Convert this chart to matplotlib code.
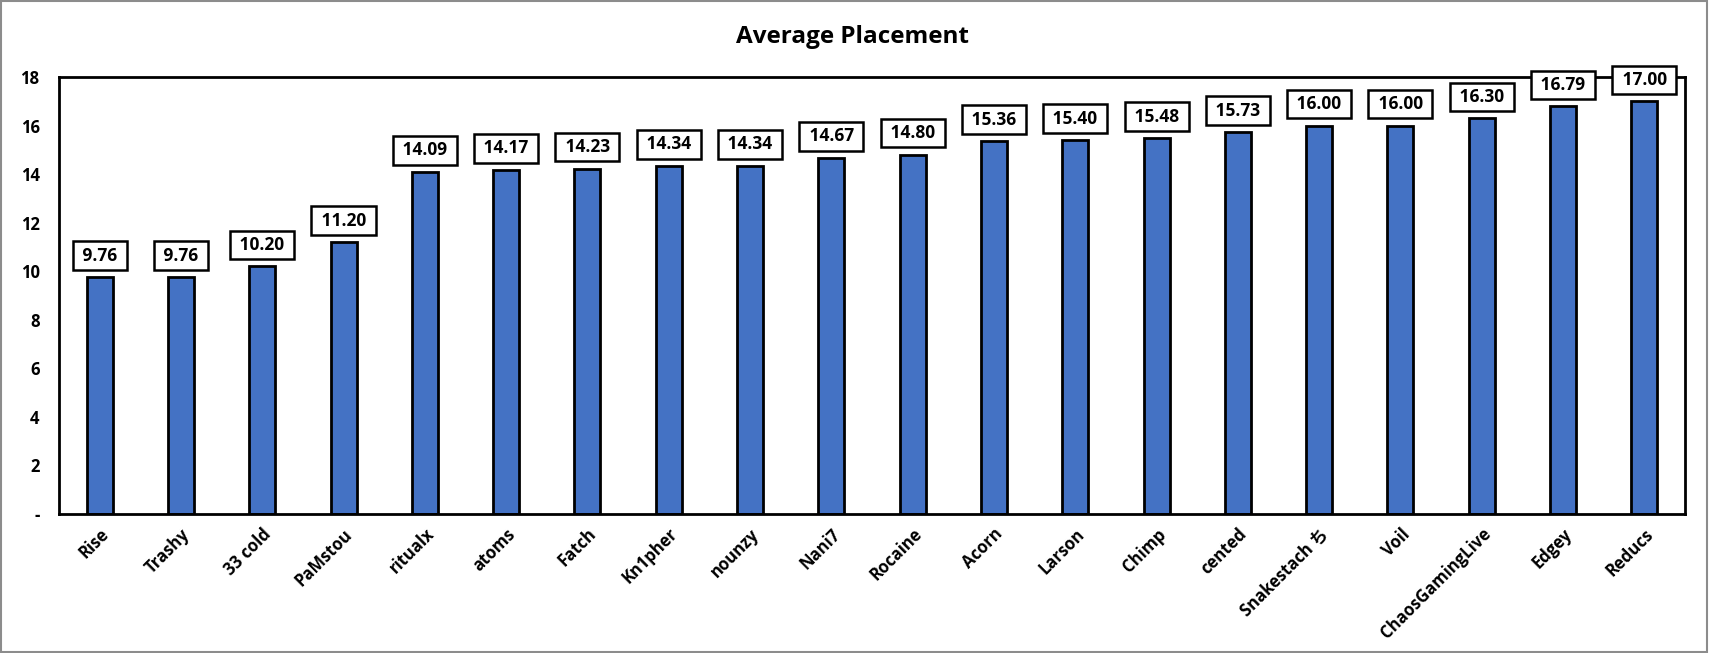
import matplotlib
matplotlib.use("Agg")
import matplotlib.pyplot as plt
from matplotlib.patches import Rectangle

plt.rcParams['font.family'] = ['Open Sans', 'Noto Sans CJK JP', 'DejaVu Sans']

players = ["Rise", "Trashy", "33 cold", "PaMstou", "ritualx", "atoms", "Fatch", "Kn1pher",
           "nounzy", "Nani7", "Rocaine", "Acorn", "Larson", "Chimp", "cented", "Snakestach ち",
           "Voil", "ChaosGamingLive", "Edgey", "Reducs"]
avg_placement = [9.76, 9.76, 10.20, 11.20, 14.09, 14.17, 14.23, 14.34, 14.34, 14.67, 14.80,
                 15.36, 15.40, 15.48, 15.73, 16.00, 16.00, 16.30, 16.79, 17.00]
yticks = [0, 2, 4, 6, 8, 10, 12, 14, 16, 18]
ytick_labels = ["-", "2", "4", "6", "8", "10", "12", "14", "16", "18"]

fig = plt.figure(figsize=(17.09, 6.53), dpi=100)
ax = fig.add_axes([59/1709, 1-514/653, (1685-59)/1709, (514-77)/653])

x = list(range(len(players)))
ax.bar(x, avg_placement, width=0.32, color="#4472C4", edgecolor="black", linewidth=2, zorder=2)

for xi, v in zip(x, avg_placement):
    ax.annotate(f" {v:.2f} ", (xi, v), xytext=(0, 9), textcoords="offset points",
                ha="center", va="bottom", fontsize=12.5, fontweight="bold",
                bbox=dict(boxstyle="square,pad=0.3", fc="white", ec="black", lw=1.8),
                annotation_clip=False, zorder=5)

ax.set_xlim(-0.5, len(players) - 0.5)
ax.set_ylim(0, 18)
ax.set_yticks(yticks)
ax.set_yticklabels(ytick_labels, fontsize=12, fontweight="bold")
ax.set_xticks(x)
ax.set_xticklabels(players, rotation=45, ha="right", va="top", rotation_mode="anchor",
                   fontsize=12, fontweight="bold")
ax.tick_params(axis="both", length=0)
ax.tick_params(axis="x", pad=8)
ax.tick_params(axis="y", pad=14)
for s in ax.spines.values():
    s.set_linewidth(2)
    s.set_color("black")

fig.text(853/1709, 1-37/653, "Average Placement", ha="center", va="center",
         fontsize=17.5, fontweight="bold")

fig.patches.append(Rectangle((0.0006, 0.001), 0.9985, 0.997, transform=fig.transFigure,
                             fill=False, ec="#8c8c8c", lw=1.5))

fig.savefig("out.png", dpi=100)
